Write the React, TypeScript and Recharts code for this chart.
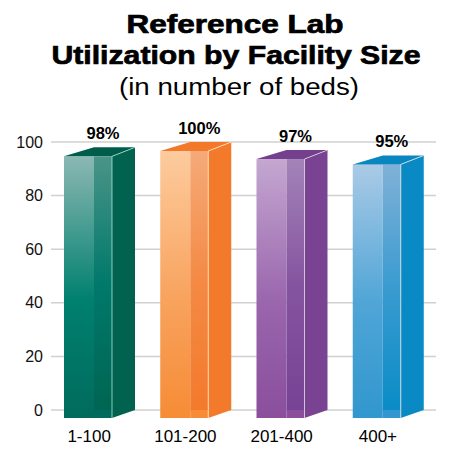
import React from 'react';
import { BarChart, Bar, XAxis, YAxis, CartesianGrid, LabelList } from 'recharts';

const categories = ['1-100', '101-200', '201-400', '400+'];
const utilization = [98, 100, 97, 95];
const valueLabels = ['98%', '100%', '97%', '95%'];
const yTicks = [0, 20, 40, 60, 80, 100];

const FONT = '"Liberation Sans", Arial, Helvetica, sans-serif';

// per-bar colours: front light part, back part seen through the front, side/top
const palettes = [
  { lt: '#8cb8b3', lm: '#00806f', lb: '#006b5d', mt: '#4a9488', mm: '#00796b', mb: '#006553', side: '#00624f', top: '#005d4b', edge: 'rgba(170,230,205,0.8)' },
  { lt: '#fdcb9e', lm: '#f8a35e', lb: '#f68c36', mt: '#f5aa78', mm: '#f48a45', mb: '#f37a2d', side: '#f47a2b', top: '#f3782a', edge: 'rgba(255,225,190,0.9)' },
  { lt: '#c4a7d1', lm: '#9a66ad', lb: '#8a4e9d', mt: '#a383b8', mm: '#8554a0', mb: '#774394', side: '#7a4292', top: '#74408e', edge: 'rgba(215,205,215,0.9)' },
  { lt: '#aacae6', lm: '#4fa5d6', lb: '#3197ce', mt: '#80b1d7', mm: '#3a9bd0', mb: '#0a8cc6', side: '#0a8ac4', top: '#0886c0', edge: 'rgba(215,225,230,0.9)' },
];

const data = categories.map((category, i) => ({
  category,
  value: utilization[i],
  label: valueLabels[i],
}));

function Box3D(props: any) {
  const { x, y, width, height, payload } = props;
  const i = categories.indexOf(payload.category);
  const p = palettes[i];
  const L = x;
  const W = width; // whole box incl. side
  const fw = 48; // front face width
  const split = 30; // where the back face starts
  const backTop = y;
  const zeroY = y + height;
  const frontTop = backTop + 9;
  const frontBottom = zeroY + 8;
  return (
    <g>
      <defs>
        <linearGradient id={`gl-${i}`} x1="0" y1="0" x2="0" y2="1">
          <stop offset="0%" stopColor={p.lt} />
          <stop offset="55%" stopColor={p.lm} />
          <stop offset="100%" stopColor={p.lb} />
        </linearGradient>
        <linearGradient id={`gm-${i}`} x1="0" y1="0" x2="0" y2="1">
          <stop offset="0%" stopColor={p.mt} />
          <stop offset="50%" stopColor={p.mm} />
          <stop offset="100%" stopColor={p.mb} />
        </linearGradient>
      </defs>
      <rect x={L} y={frontTop} width={split} height={frontBottom - frontTop} fill={`url(#gl-${i})`} />
      <rect x={L + split} y={frontTop} width={fw - split} height={zeroY - frontTop} fill={`url(#gm-${i})`} />
      <rect x={L + split} y={zeroY} width={fw - split} height={frontBottom - zeroY} fill={p.lb} />
      <polygon
        points={`${L + fw},${frontTop} ${L + W},${backTop} ${L + W},${zeroY} ${L + fw},${frontBottom}`}
        fill={p.side}
      />
      <polygon
        points={`${L},${frontTop} ${L + split},${backTop} ${L + W},${backTop} ${L + fw},${frontTop}`}
        fill={p.top}
      />
      <line x1={L + fw} y1={frontTop} x2={L + fw} y2={frontBottom} stroke={p.edge} strokeWidth={1} />
      <line x1={L + fw} y1={frontTop} x2={L + W} y2={backTop} stroke={p.edge} strokeWidth={1} />
    </g>
  );
}

function ValueLabel(props: any) {
  const { x, y, value } = props;
  return (
    <text x={x + 39} y={y - 8} textAnchor="middle" fontFamily={FONT} fontWeight="bold" fontSize={16.5} fill="#000">
      {value}
    </text>
  );
}

function CategoryTick(props: any) {
  const { x, y, payload } = props;
  return (
    <text x={x - 10} y={y} dy={24} textAnchor="middle" fontFamily={FONT} fontSize={17} fill="#000">
      {payload.value}
    </text>
  );
}

export default function App() {
  return (
    <div style={{ position: 'absolute', left: 0, top: 0, width: 471, height: 466, background: '#fff' }}>
      <BarChart
        width={471}
        height={466}
        data={data}
        margin={{ top: 142, right: 35, bottom: 26, left: 0 }}
        barSize={71}
      >
        <CartesianGrid vertical={false} stroke="#d0d0cc" strokeWidth={1.5} />
        <XAxis dataKey="category" axisLine={false} tickLine={false} height={30} tick={<CategoryTick />} interval={0} />
        <YAxis
          domain={[0, 100]}
          ticks={yTicks}
          interval={0}
          width={51}
          axisLine={false}
          tickLine={false}
          tick={{ fontSize: 16, fill: '#111', fontFamily: FONT }}
        />
        <Bar dataKey="value" shape={<Box3D />} isAnimationActive={false}>
          <LabelList dataKey="label" content={<ValueLabel />} />
        </Bar>
      </BarChart>
      <svg width={471} height={110} style={{ position: 'absolute', left: 0, top: 0, pointerEvents: 'none' }}>
        <text x={235} y={33} textAnchor="middle" fontFamily={FONT} fontWeight="bold" fontSize={25} textLength={217} lengthAdjust="spacingAndGlyphs" fill="#000" stroke="#000" strokeWidth={0.7}>
          Reference Lab
        </text>
        <text x={236} y={64} textAnchor="middle" fontFamily={FONT} fontWeight="bold" fontSize={26} textLength={369} lengthAdjust="spacingAndGlyphs" fill="#000" stroke="#000" strokeWidth={0.7}>
          Utilization by Facility Size
        </text>
        <text x={239} y={95} textAnchor="middle" fontFamily={FONT} fontSize={23} textLength={240} lengthAdjust="spacingAndGlyphs" fill="#000">
          (in number of beds)
        </text>
      </svg>
    </div>
  );
}
